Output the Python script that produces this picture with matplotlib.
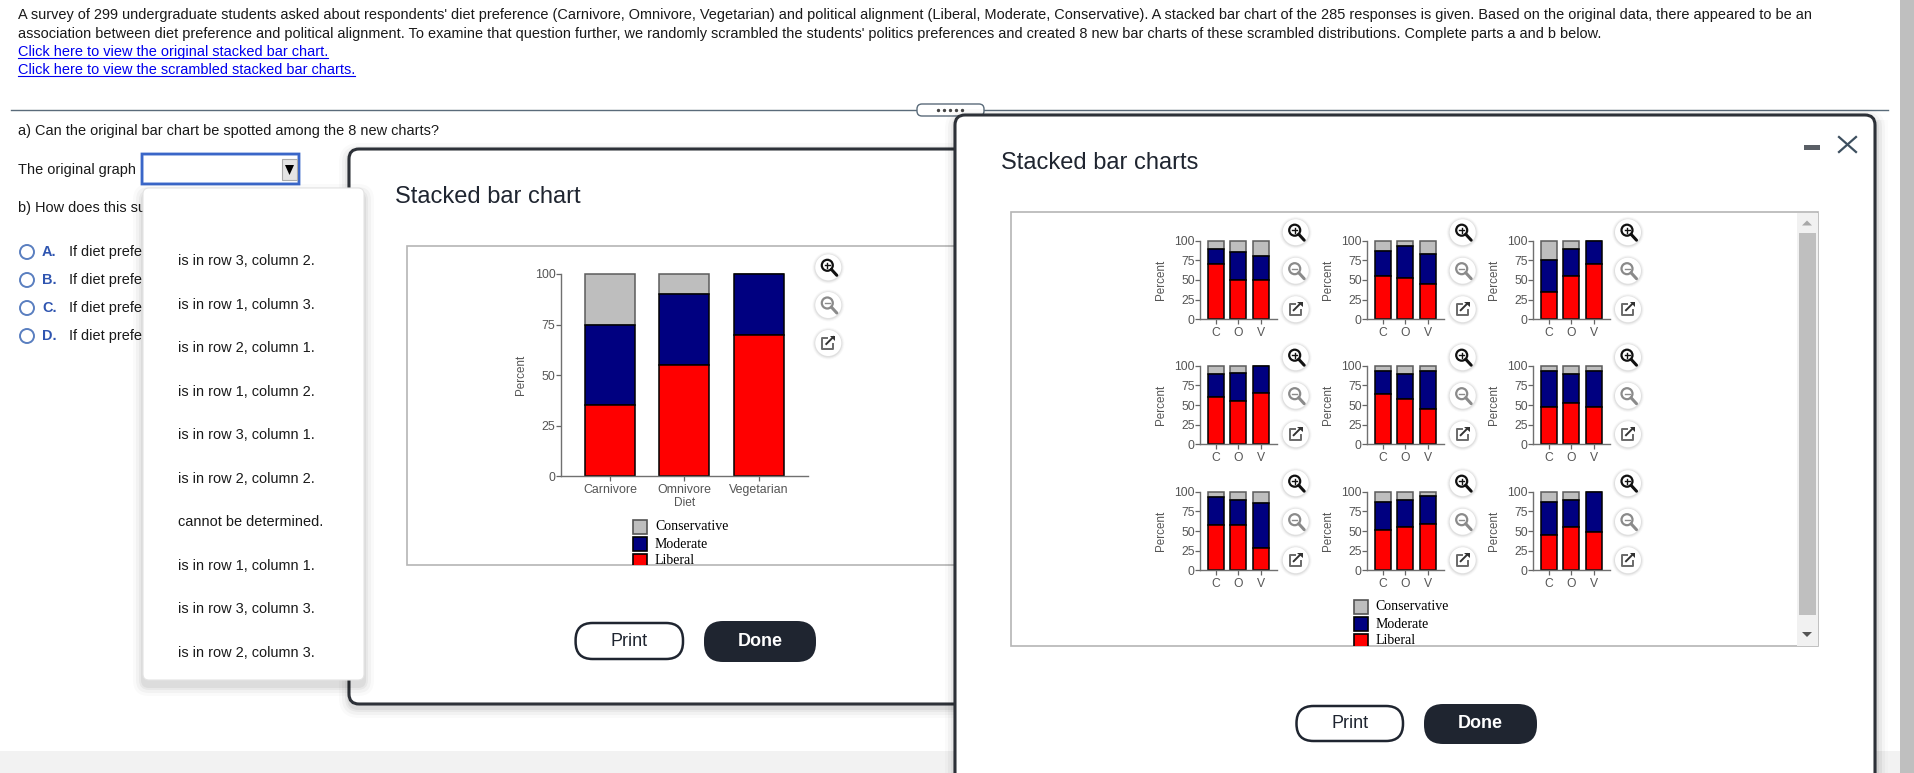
import matplotlib
matplotlib.use('Agg')
import matplotlib.pyplot as plt
from matplotlib.patches import FancyBboxPatch, Rectangle, Circle, Polygon

plt.rcParams['font.family'] = ['Liberation Sans', 'DejaVu Sans']

W, H = 1914, 773

# original chart values, percent per diet
diets = ['Carnivore', 'Omnivore', 'Vegetarian']
diet_short = ['C', 'O', 'V']
politics = ['Conservative', 'Moderate', 'Liberal']
orig_liberal = [35, 55, 70]
orig_moderate = [40, 35, 30]
orig_conservative = [25, 10, 0]

# scrambled charts, read row by row
scr_liberal = [[70, 50, 50], [55, 53, 45], [35, 55, 70],
               [60, 55, 65], [64, 58, 45], [48, 53, 48],
               [58, 58, 29], [51, 55, 59], [45, 55, 49]]
scr_moderate = [[20, 36, 30], [32, 40, 38], [41, 35, 30],
                [30, 36, 35], [29, 32, 48], [45, 37, 45],
                [35, 32, 56], [36, 35, 35], [42, 35, 51]]
scr_conservative = [[10, 14, 20], [13, 7, 17], [24, 10, 0],
                    [10, 9, 0], [7, 10, 7], [7, 10, 7],
                    [7, 10, 15], [13, 10, 6], [13, 10, 0]]

menu_items = ['is in row 3, column 2.', 'is in row 1, column 3.', 'is in row 2, column 1.',
              'is in row 1, column 2.', 'is in row 3, column 1.', 'is in row 2, column 2.',
              'cannot be determined.', 'is in row 1, column 1.', 'is in row 3, column 3.',
              'is in row 2, column 3.']
intro = ["A survey of 299 undergraduate students asked about respondents' diet preference (Carnivore, Omnivore, Vegetarian) and political alignment (Liberal, Moderate, Conservative). A stacked bar chart of the 285 responses is given. Based on the original data, there appeared to be an",
         "association between diet preference and political alignment. To examine that question further, we randomly scrambled the students' politics preferences and created 8 new bar charts of these scrambled distributions. Complete parts a and b below."]

COLORS = {'Conservative': '#bebebe', 'Moderate': '#000080', 'Liberal': '#ff0000'}
DARK = '#1f2530'
TXT = '#1a1a1a'

fig = plt.figure(figsize=(W / 100, H / 100), dpi=100, facecolor='white')
ui = fig.add_axes([0, 0, 1, 1])
ui.set_xlim(0, W)
ui.set_ylim(H, 0)
ui.axis('off')


def box(x0, y0, x1, y1, r=0, fc='white', ec='none', lw=1, z=1):
    p = FancyBboxPatch((x0, y0), x1 - x0, y1 - y0, boxstyle='round,pad=0,rounding_size=%g' % r,
                       fc=fc, ec=ec, lw=lw, zorder=z)
    ui.add_patch(p)
    return p


def shadow(x0, y0, x1, y1, r, z, dy=4):
    for grow, a in zip([10, 7, 4, 2], [0.02, 0.03, 0.04, 0.05]):
        box(x0 - grow, y0 - grow + dy, x1 + grow, y1 + grow + dy, r + grow, fc=(0, 0, 0, a), z=z)


def txt(x, y, s, size=10.44, color=TXT, ha='left', z=3, **kw):
    return ui.text(x, y, s, fontsize=size, color=color, ha=ha, va='center', zorder=z, **kw)


def magnifier(cx, cy, color, sign, z):
    ui.add_patch(Circle((cx - 1, cy - 2), 5.5, fc='none', ec=color, lw=1.6, zorder=z))
    ui.plot([cx + 3, cx + 8.5], [cy + 2, cy + 8], color=color, lw=2.2, zorder=z, solid_capstyle='round')
    ui.plot([cx - 3.5, cx + 1.5], [cy - 2, cy - 2], color=color, lw=1, zorder=z)
    if sign == '+':
        ui.plot([cx - 1, cx - 1], [cy - 4.5, cy + 0.5], color=color, lw=1, zorder=z)


def icon_button(cx, cy, z=6):
    for r, a in zip([16, 15, 14], [0.025, 0.04, 0.06]):
        ui.add_patch(Circle((cx, cy + 0.5), r, fc=(0, 0, 0, a), ec='none', zorder=z))
    ui.add_patch(Circle((cx, cy), 13, fc='white', ec='none', zorder=z))


def icons(cx, y_in, y_out, y_link, z=6):
    for y in (y_in, y_out, y_link):
        icon_button(cx, y, z)
    magnifier(cx, y_in, '#111111', '+', z + 1)
    magnifier(cx, y_out, '#8a8a8a', '-', z + 1)
    # external link icon
    ui.plot([cx - 1, cx - 6, cx - 6, cx + 5, cx + 5],
            [y_link - 5, y_link - 5, y_link + 6, y_link + 6, y_link + 1], color='#6a6a6a', lw=1.4, zorder=z + 1)
    ui.plot([cx - 2, cx + 5], [y_link + 1, y_link - 6], color='#333333', lw=1.4, zorder=z + 1)
    ui.add_patch(Polygon([[cx + 1.5, y_link - 7.5], [cx + 7, y_link - 7.5], [cx + 7, y_link - 2]],
                         fc='#333333', ec='none', zorder=z + 1))


def stacked(px, tick0, step, bar_px, labels, lib, mod, cons, size, ylab_x, xlab=None):
    # px = left, top, right, bottom of the plot area in image pixels
    x0, top, x1, bottom = px
    ax = fig.add_axes([x0 / W, 1 - bottom / H, (x1 - x0) / W, (bottom - top) / H], zorder=2)
    ax.patch.set_visible(False)
    pos = [0, 1, 2]
    base_mod = [a for a in lib]
    base_cons = [a + b for a, b in zip(lib, mod)]
    w = bar_px / step
    ax.bar(pos, cons, w, bottom=base_cons, color=COLORS['Conservative'], edgecolor='#5c5c5c', lw=1.1, clip_on=False)
    ax.bar(pos, mod, w, bottom=base_mod, color=COLORS['Moderate'], edgecolor='black', lw=1.1, clip_on=False)
    ax.bar(pos, lib, w, color=COLORS['Liberal'], edgecolor='black', lw=1.1, clip_on=False)
    ax.set_xlim((x0 - tick0) / step, (x1 - tick0) / step)
    ax.set_ylim(0, 100)
    ax.set_xticks(pos)
    ax.set_xticklabels(labels)
    ax.set_yticks([0, 25, 50, 75, 100])
    ax.tick_params(axis='y', length=3.8, width=0.9, color='#666666', labelcolor='#555555', labelsize=size, pad=0)
    ax.tick_params(axis='x', length=3.8, width=0.9, color='#666666', labelcolor='#555555', labelsize=size, pad=1.6)
    for s in ('top', 'right'):
        ax.spines[s].set_visible(False)
    for s in ('left', 'bottom'):
        ax.spines[s].set_color('#707070')
        ax.spines[s].set_linewidth(1)
    ax.set_ylabel('Percent', fontsize=8.4, color='#555555', va='center')
    ax.yaxis.set_label_coords((ylab_x - x0) / (x1 - x0), 0.5)
    if xlab:
        ax.set_xlabel(xlab, fontsize=8.6, color='#555555', labelpad=1.2)
    return ax


def legend(x, y0, text_x, clip, z=4):
    for i, name in enumerate(politics):
        y = y0 + 17 * i
        r = Rectangle((x, y), 14, 14, fc=COLORS[name], ec='#555555' if i == 0 else 'black', lw=1.2, zorder=z)
        ui.add_patch(r)
        r.set_clip_path(clip)
        t = txt(text_x, y + 7, name, size=10, color='black', family='Liberation Serif', z=z)
        t.set_clip_path(clip)


# ---- page behind the dialogs
ui.add_patch(Rectangle((0, 751), W, 22, fc='#f2f2f2', ec='none', zorder=0))
ui.add_patch(Rectangle((1900, 0), 14, H, fc='#bfbfbf', ec='none', zorder=0))

txt(18, 15, intro[0])
txt(18, 34, intro[1])
txt(18, 52, 'Click here to view the original stacked bar chart.', color='#0000ee')
txt(18, 70, 'Click here to view the scrambled stacked bar charts.', color='#0000ee')
ui.plot([18, 328], [58, 58], color='#0000ee', lw=0.8, zorder=3)
ui.plot([18, 355], [76, 76], color='#0000ee', lw=0.8, zorder=3)

ui.plot([11, 1888], [110, 110], color='#5a6b7a', lw=1, zorder=1)
box(917, 104, 984, 116, r=5, fc='white', ec='#5a6b7a', lw=1, z=2)
ui.scatter([938, 944, 950, 956, 962], [110] * 5, s=2, color='#444444', zorder=3)

txt(18, 131, 'a) Can the original bar chart be spotted among the 8 new charts?')
txt(18, 170, 'The original graph')
box(142, 154, 299, 184, fc='#e8effb', ec='#3a66c8', lw=2, z=2)
box(144, 156, 297, 182, fc='white', z=2)
ui.add_patch(Rectangle((282, 159), 15, 21, fc='#e4e4e4', ec='#aaaaaa', lw=0.8, zorder=3))
ui.add_patch(Polygon([[285, 165], [294, 165], [289.5, 175]], fc='black', ec='none', zorder=4))
txt(18, 208, 'b) How does this su')

for y, letter in zip([252, 280, 308, 336], 'ABCD'):
    ui.add_patch(Circle((27, y), 7, fc='white', ec='#5a7fc0', lw=1.4, zorder=3))
    txt(42, y, letter + '.', color='#2f55b0', fontweight='bold')
    txt(69, y, 'If diet prefe')

# ---- first dialog
shadow(349, 149, 1000, 704, 10, 1)
box(349, 149, 1000, 704, r=10, fc='white', ec='#2d3138', lw=2.2, z=1.5)
txt(395, 197, 'Stacked bar chart', size=17, color=DARK)
frame1 = Rectangle((406.5, 245.5), 560, 319, fc='white', ec='#b5b5b5', lw=1.2, zorder=2)
ui.add_patch(frame1)

stacked((560.7, 274, 808.3, 476.3), 610, 74.4, 50, diets, orig_liberal, orig_moderate, orig_conservative, 8.9, 521, 'Diet')
icons(828.3, 267.3, 305, 343)
legend(633.3, 520, 655, frame1)

box(575.6, 623, 683, 659, r=17, fc='white', ec=DARK, lw=1.8, z=3)
txt(629.5, 641, 'Print', size=13, color=DARK, ha='center', z=4)
box(704, 621, 816, 662, r=19, fc=DARK, z=3)
txt(760, 641, 'Done', size=13, color='white', ha='center', z=4, fontweight='bold')

# ---- drop-down list on top of it
shadow(143, 188, 364, 680, 6, 4.2, dy=6)
box(143, 188, 364, 680, r=6, fc='white', ec='#e4e4e4', lw=0.8, z=4.5)
for y, item in zip([261, 305, 348, 392, 435, 479, 522, 566, 609, 653], menu_items):
    txt(178, y, item, z=5)

# ---- second dialog
shadow(955, 115, 1875, 800, 10, 7)
for i, a in enumerate([0.05, 0.035, 0.02, 0.01]):
    ui.add_patch(Rectangle((1876 + 3 * i, 120), 3, H, fc=(0, 0, 0, a), ec='none', zorder=7.1))
box(955, 115, 1875, 800, r=10, fc='white', ec='#2d3138', lw=2.2, z=7.5)
txt(1001, 163, 'Stacked bar charts', size=17, color=DARK, z=8)
ui.add_patch(Rectangle((1804, 144.5), 15.5, 5, fc='#5a5f66', ec='none', zorder=8))
ui.plot([1839, 1856], [137, 152], color='#3d4f5f', lw=1.6, zorder=8)
ui.plot([1839, 1856], [152, 137], color='#3d4f5f', lw=1.6, zorder=8)

frame2 = Rectangle((1011, 212), 807, 434, fc='white', ec='#b5b5b5', lw=1.2, zorder=8)
ui.add_patch(frame2)
ui.add_patch(Rectangle((1797, 213), 20.5, 432.5, fc='#f1f1f1', ec='none', zorder=8.1))
ui.add_patch(Rectangle((1799, 233), 17, 382, fc='#bfbfbf', ec='none', zorder=8.2))
ui.add_patch(Polygon([[1802, 225.5], [1812, 225.5], [1807, 220.5]], fc='#a8a8a8', ec='none', zorder=8.2))
ui.add_patch(Polygon([[1802, 632], [1812, 632], [1807, 637]], fc='#555555', ec='none', zorder=8.2))

col_left = [1200, 1367, 1533]
row_top = [240.7, 365.7, 491.7]
icon_x = [1295.7, 1462.7, 1628]
for n in range(9):
    r, c = divmod(n, 3)
    x0 = col_left[c]
    y0 = row_top[r]
    stacked((x0, y0, x0 + 77, y0 + 78.6), x0 + 15.5, 22.7, 16, diet_short,
            scr_liberal[n], scr_moderate[n], scr_conservative[n], 8.7, x0 - 39.3)
    icons(icon_x[c], y0 - 8.5, y0 + 30, y0 + 68.5, z=9)
legend(1354, 600, 1375.7, frame2, z=9)

box(1296.5, 706, 1403, 741, r=17, fc='white', ec=DARK, lw=1.8, z=9)
txt(1350, 724, 'Print', size=13, color=DARK, ha='center', z=10)
box(1424, 704, 1537, 744, r=19, fc=DARK, z=9)
txt(1480.5, 724, 'Done', size=13, color='white', ha='center', z=10, fontweight='bold')

fig.savefig('out.png', dpi=100)
